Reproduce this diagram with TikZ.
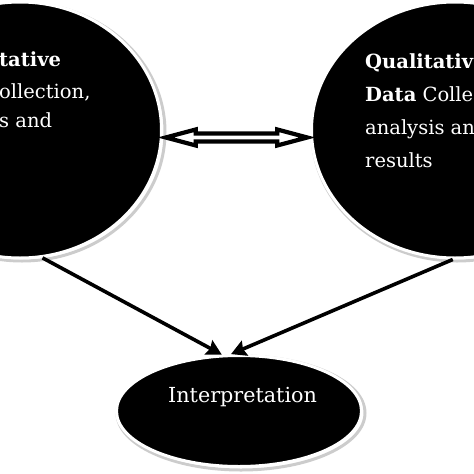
\documentclass[tikz,border=0pt]{standalone}
\usepackage{fontspec}
\setmainfont{DejaVu Serif}
\usetikzlibrary{arrows.meta,shapes.geometric,calc}
\begin{document}
\begin{tikzpicture}[x=1pt,y=-1pt,
  blob/.style={ellipse, fill=black, draw=white, line width=3pt, inner sep=0pt},
  halo/.style={ellipse, draw=gray!40, line width=3pt, inner sep=0pt},
  txt/.style={text=white, font=\fontsize{19.5}{24}\selectfont, anchor=base west, inner sep=0pt},
  link/.style={line width=3.6pt, -{Stealth[length=15pt,width=16pt,inset=2pt]}},
  both/.style={draw=black, fill=white, line width=4.2pt, line join=miter, miter limit=4}
]
\useasboundingbox (0,0) rectangle (474,474);
\fill[white] (0,0) rectangle (474,474);
\clip (0,0) rectangle (474,474);
% shadows
\node[halo, minimum width=286pt, minimum height=258pt] (Ls) at (22,132) {};
\node[halo, minimum width=290pt, minimum height=258pt] (Rs) at (457,132) {};
\node[halo, minimum width=248pt, minimum height=114pt] (Is) at (241,413) {};
% ellipses
\node[blob, minimum width=283pt, minimum height=256pt] (L) at (20,130) {};
\node[blob, minimum width=287pt, minimum height=256pt] (R) at (455,130) {};
\node[blob, minimum width=245pt, minimum height=111pt] (I) at (239,411) {};
% texts
\node[txt, font=\fontsize{19.5}{24}\selectfont\bfseries] (l1) at (-1,66) {tative};
\node[txt] (l2) at (-1,98) {ollection,};
\node[txt] (l3) at (-1,127) {s and};
\node[txt, font=\fontsize{19.5}{24}\selectfont\bfseries] (r1) at (365,68) {Qualitativ};
\node[txt] (r2) at (365,101) {\textbf{Data} Colle};
\node[txt] (r3) at (365,134) {analysis an};
\node[txt] (r4) at (365,167) {results};
\node[txt, font=\fontsize{20.7}{24}\selectfont] (it) at (168,402) {Interpretation};
% connectors
\coordinate (a) at ($(L.-3)+(3,0)$);
\coordinate (bb) at ($(R.183)+(-3,0)$);
\coordinate (b) at (a -| bb);
\draw[both] (a) -- ($(a)+(30,-8)$) -- ($(a)+(30,-4)$) -- ($(b)+(-30,-4)$)
  -- ($(b)+(-30,-8)$) -- (b) -- ($(b)+(-30,8)$) -- ($(b)+(-30,4)$)
  -- ($(a)+(30,4)$) -- ($(a)+(30,8)$) -- cycle;
\draw[link] (L.280) -- (I.107);
\draw[link] (R.269) -- (I.98);
\end{tikzpicture}
\end{document}
